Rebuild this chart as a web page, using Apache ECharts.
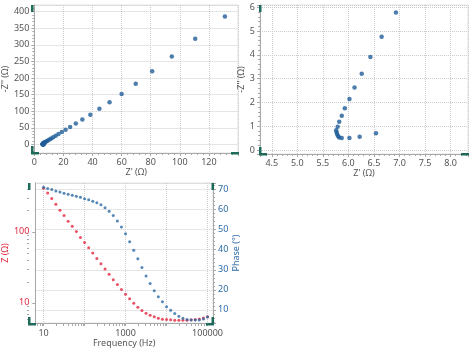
<!DOCTYPE html>
<html>
<head>
<meta charset="utf-8">
<script src="https://cdn.jsdelivr.net/npm/echarts@6/dist/echarts.min.js"></script>
<style>
html, body { margin: 0; padding: 0; background: #ffffff; }
#c { width: 474px; height: 349px; }
</style>
</head>
<body>
<div id="c"></div>
<script>
// Impedance sweep, 10 points per decade, 10 Hz .. 100 kHz
const freqHz = [10, 12.59, 15.85, 19.95, 25.12, 31.62, 39.81, 50.12, 63.10, 79.43,
  100, 125.9, 158.5, 199.5, 251.2, 316.2, 398.1, 501.2, 631.0, 794.3,
  1000, 1259, 1585, 1995, 2512, 3162, 3981, 5012, 6310, 7943,
  10000, 12589, 15849, 19953, 25119, 31623, 39811, 50119, 63096, 79433, 100000];

// Bode: impedance modulus (Ω) and phase (°)
const zMod = [409, 352, 293, 244, 201, 169, 141, 120, 101, 83.4,
  70.8, 59.7, 50.2, 42.3, 35.6, 30.0, 25.2, 21.2, 18.1, 15.4,
  13.2, 11.4, 9.89, 8.69, 7.81, 7.16, 6.71, 6.37, 6.10, 5.90,
  5.84, 5.78, 5.72, 5.72, 5.72, 5.72, 5.78, 5.84, 5.95, 6.13, 6.39];
const phaseDeg = [71.2, 70.5, 70.0, 69.3, 68.8, 68.2, 67.7, 67.2, 66.7, 66.2,
  65.5, 64.9, 64.2, 63.4, 62.4, 61.0, 59.2, 57.1, 54.4, 51.4,
  48.0, 44.0, 39.7, 35.5, 31.2, 26.9, 23.1, 19.6, 16.6, 14.0,
  11.6, 9.8, 8.2, 6.8, 5.8, 5.2, 4.9, 4.9, 5.0, 5.5, 6.5];

// Nyquist: real part Z' and negative imaginary part -Z'' (Ω)
const zReal = [131, 110.6, 94.5, 81, 69.7, 60, 51.7, 44.7, 38.5, 33,
  28.5, 24.6, 21.5, 18.9, 16.6, 14.7, 13.0, 11.6, 10.4, 9.3,
  8.4, 7.6, 6.93, 6.65, 6.43, 6.26, 6.12, 6.02, 5.93, 5.87,
  5.82, 5.79, 5.76, 5.77, 5.78, 5.80, 5.82, 5.87, 6.02, 6.22, 6.54];
const zImagNeg = [385, 318, 265, 220, 183, 152, 127, 107, 89, 75,
  63, 52, 44, 37, 31.2, 26.1, 21.7, 17.9, 14.7, 11.9,
  9.5, 7.5, 5.78, 4.76, 3.91, 3.21, 2.63, 2.14, 1.76, 1.44,
  1.19, 0.98, 0.83, 0.74, 0.66, 0.58, 0.52, 0.50, 0.50, 0.56, 0.70];

const FONT = 'Noto Sans';
const TEAL = '#1e6b5b';
const LINE = '#a8a8a8';
const TXT = '#555555';
const RED = '#e3263f';
const BLUE = '#2b6aa6';
const NAVY = '#1f5c98';

const G1 = { left: 32, top: 5, width: 206, height: 148 };
const G2 = { left: 260, top: 5, width: 208, height: 149 };
const G3 = { left: 29, top: 183, width: 184, height: 141 };

function gridOpt(g) {
  return Object.assign({ show: true, borderColor: '#e2e2e2', borderWidth: 1, backgroundColor: '#ffffff' }, g);
}

function linAxis(extra) {
  return Object.assign({
    type: 'value',
    nameLocation: 'middle',
    nameTextStyle: { fontFamily: FONT, fontSize: 9, color: TXT },
    axisLine: { show: true, onZero: false, lineStyle: { color: LINE, width: 1 } },
    axisTick: { show: true, length: 3, lineStyle: { color: LINE } },
    minorTick: { show: true, splitNumber: 5, length: 2, lineStyle: { color: LINE } },
    splitLine: { show: true, lineStyle: { type: 'dotted', color: '#cccccc' } },
    axisLabel: { fontFamily: FONT, fontSize: 9, color: TXT, margin: 5, showMinLabel: false, showMaxLabel: false }
  }, extra);
}

function decadeLabel(v, keep) {
  const e = Math.log10(v);
  const r = Math.round(e);
  if (Math.abs(e - r) > 1e-6) return '';
  return keep(r) ? String(Math.round(Math.pow(10, r))) : '';
}

const nyquist = zReal.map((x, i) => [x, zImagNeg[i]]);
const bodeMod = freqHz.map((f, i) => [f, zMod[i]]);
const bodePhase = freqHz.map((f, i) => [f, phaseDeg[i]]);

const chart = echarts.init(document.getElementById('c'), null, { renderer: 'canvas' });

const option = {
  animation: false,
  backgroundColor: '#ffffff',
  grid: [gridOpt(G1), gridOpt(G2), gridOpt(G3)],
  xAxis: [
    linAxis({ gridIndex: 0, min: 0, max: 140, interval: 20, name: "Z' (Ω)", nameGap: 13,
      axisLabel: { fontFamily: FONT, fontSize: 9, color: TXT, margin: 5, showMaxLabel: false } }),
    linAxis({ gridIndex: 1, min: 4.27, max: 8.34, splitNumber: 8, name: "Z' (Ω)", nameGap: 13,
      axisLabel: { fontFamily: FONT, fontSize: 9, color: TXT, margin: 5, showMinLabel: false, showMaxLabel: false,
        formatter: v => v.toFixed(1) } }),
    {
      gridIndex: 2, type: 'log', min: 6.3, max: 136000,
      name: 'Frequency (Hz)', nameLocation: 'middle', nameGap: 15,
      nameTextStyle: { fontFamily: FONT, fontSize: 9, color: TXT },
      axisLine: { show: true, onZero: false, lineStyle: { color: LINE } },
      axisTick: { show: true, length: 3, lineStyle: { color: LINE } },
      splitLine: { show: true, lineStyle: { type: 'dotted', color: '#cccccc' } },
      axisLabel: { fontFamily: FONT, fontSize: 9, color: TXT, margin: 6, showMinLabel: false, showMaxLabel: false,
        formatter: v => decadeLabel(v, r => r % 2 === 1) }
    }
  ],
  yAxis: [
    linAxis({ gridIndex: 0, min: -26, max: 420, splitNumber: 9, name: "-Z'' (Ω)", nameGap: 22 }),
    linAxis({ gridIndex: 1, min: -0.17, max: 6.1, splitNumber: 6, name: "-Z'' (Ω)", nameGap: 14 }),
    {
      gridIndex: 2, type: 'log', min: 5.2, max: 486, position: 'left',
      name: 'Z (Ω)', nameLocation: 'middle', nameGap: 19,
      nameTextStyle: { fontFamily: FONT, fontSize: 9, color: RED },
      axisLine: { show: true, onZero: false, lineStyle: { color: LINE } },
      axisTick: { show: true, length: 3, lineStyle: { color: LINE } },
      splitLine: { show: false },
      axisLabel: { fontFamily: FONT, fontSize: 9, color: RED, margin: 6, showMinLabel: false, showMaxLabel: false,
        formatter: v => decadeLabel(v, () => true) }
    },
    linAxis({ gridIndex: 2, min: 3.4, max: 73.3, splitNumber: 7, position: 'right', name: 'Phase (°)', nameGap: 19,
      nameTextStyle: { fontFamily: FONT, fontSize: 9, color: BLUE },
      axisLabel: { fontFamily: FONT, fontSize: 9, color: BLUE, margin: 5, showMinLabel: false, showMaxLabel: false } })
  ],
  series: [
    { type: 'scatter', xAxisIndex: 0, yAxisIndex: 0, data: nyquist, symbolSize: 4.5,
      itemStyle: { color: NAVY }, clip: true },
    { type: 'scatter', xAxisIndex: 1, yAxisIndex: 1, data: nyquist, symbolSize: 4.5,
      itemStyle: { color: NAVY }, clip: true },
    { type: 'scatter', xAxisIndex: 2, yAxisIndex: 2, data: bodeMod, symbolSize: 3,
      itemStyle: { color: RED }, clip: true },
    { type: 'scatter', xAxisIndex: 2, yAxisIndex: 3, data: bodePhase, symbolSize: 3,
      itemStyle: { color: BLUE }, clip: true }
  ]
};
chart.setOption(option);

// Axis-end handles and logarithmic minor ticks, placed from the grid layout and axis scales
const deco = [];
function bar(x, y, w, h) {
  deco.push({ type: 'rect', shape: { x: x, y: y, width: w, height: h }, style: { fill: TEAL }, silent: true, z: 100 });
}
function handles(g, rightAxis) {
  const l = g.left, t = g.top, b = g.top + g.height, r = g.left + g.width;
  bar(l - 1, t, 2.5, 7);
  bar(l - 1, b - 7, 2.5, 8);
  bar(l - 1, b - 1, 8, 2.5);
  if (rightAxis) {
    bar(r - 1.5, t, 2.5, 7);
    bar(r - 1.5, b - 7, 2.5, 8);
    bar(r - 7, b - 1, 8, 2.5);
  } else {
    bar(r - 7, b - 1, 8, 2.5);
  }
}
handles(G1, false);
handles(G2, false);
handles(G3, true);

function tick(x1, y1, x2, y2) {
  deco.push({ type: 'line', shape: { x1: x1, y1: y1, x2: x2, y2: y2 },
    style: { stroke: LINE, lineWidth: 1 }, silent: true, z: 50 });
}
const b3 = G3.top + G3.height;
[1, 10, 100, 1000, 10000, 100000].forEach(d => {
  for (let k = 2; k <= 9; k++) {
    const f = d * k;
    if (f < 6.3 || f > 136000) continue;
    const px = chart.convertToPixel({ xAxisIndex: 2 }, f);
    tick(Math.round(px) + 0.5, b3, Math.round(px) + 0.5, b3 + 2);
  }
});
[1, 10, 100].forEach(d => {
  for (let k = 2; k <= 9; k++) {
    const v = d * k;
    if (v < 5.2 || v > 486) continue;
    const py = chart.convertToPixel({ yAxisIndex: 2 }, v);
    tick(G3.left - 2, Math.round(py) + 0.5, G3.left, Math.round(py) + 0.5);
  }
});
chart.setOption({ graphic: deco });
</script>
</body>
</html>
